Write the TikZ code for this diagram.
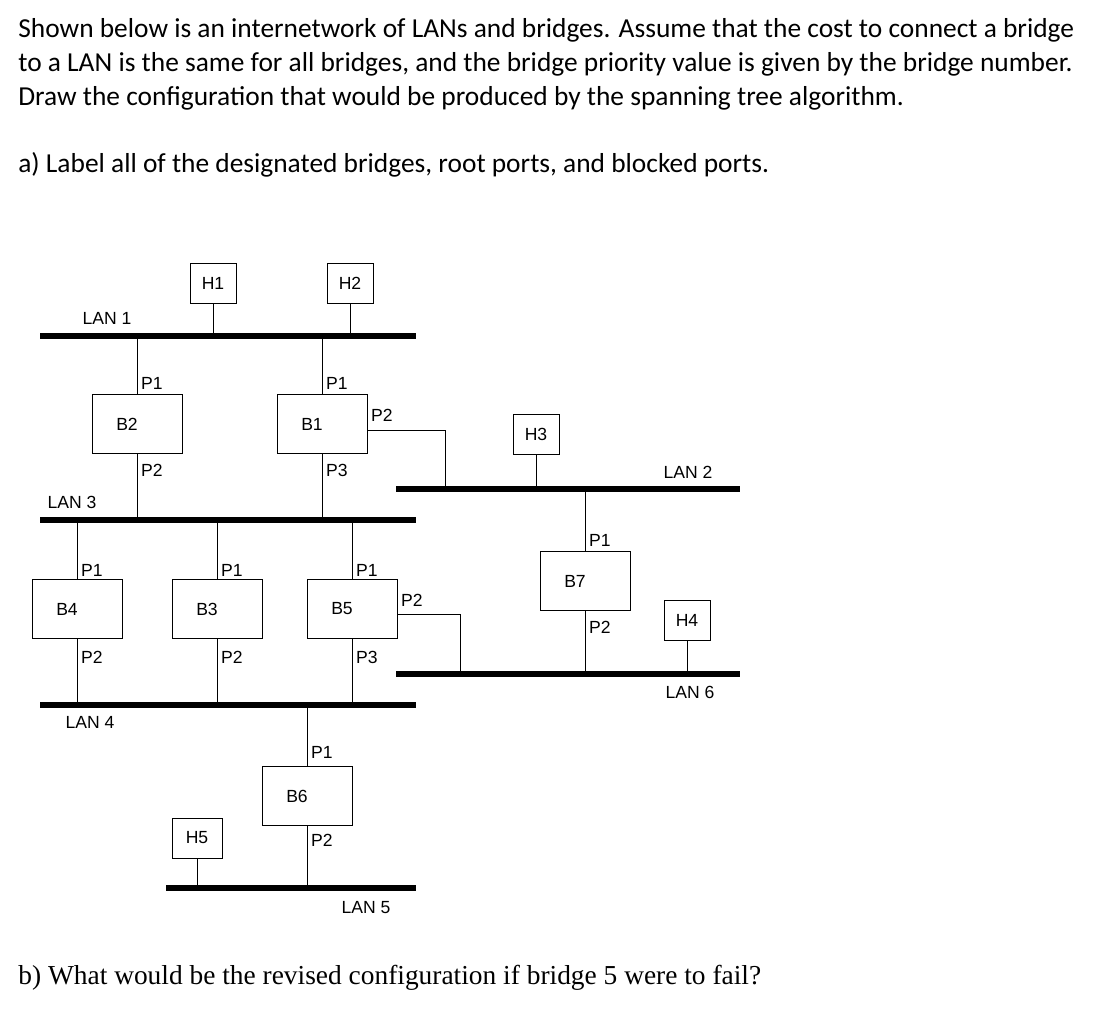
\documentclass[tikz,border=0pt]{standalone}
\usepackage{fontspec}
\setmainfont{Carlito}
\newfontfamily\netfont{Liberation Sans}
\newfontfamily\qfont{Liberation Serif}
\usetikzlibrary{positioning}
\begin{document}
\begin{tikzpicture}[x=0.02cm,y=-0.02cm,
    bridge/.style={rectangle, draw, minimum width=1.8cm, minimum height=1.18cm, font=\netfont\fontsize{10}{12}\selectfont},
    host/.style={rectangle, draw, minimum width=0.92cm, minimum height=0.8cm, font=\netfont\fontsize{10}{12}\selectfont},
    port/.style={anchor=west, inner sep=1pt, font=\netfont\fontsize{10}{12}\selectfont},
    lbl/.style={inner sep=1pt, font=\netfont\fontsize{10}{12}\selectfont},
    bus/.style={line width=3pt},
    link/.style={thin}
]
\useasboundingbox (0,0) rectangle (1120,1014);

% question text
\node[anchor=west, align=left, inner sep=0pt, font=\fontsize{15.6}{19.3}\selectfont] (q) at (18,64)
  {Shown below is an internetwork of LANs and bridges. Assume that the cost to connect a bridge\\
   to a LAN is the same for all bridges, and the bridge priority value is given by the bridge number.\\
   Draw the configuration that would be produced by the spanning tree algorithm.};
\node[anchor=west, inner sep=0pt, font=\fontsize{15.6}{19.3}\selectfont] (qa) at (18,165) {a) Label all of the designated bridges, root ports, and blocked ports.};
\node[anchor=west, inner sep=0pt, font=\qfont\fontsize{15.6}{19}\selectfont] (qb) at (18,978) {b) What would be the revised configuration if bridge 5 were to fail?};

% LANs
\coordinate (lan1a) at (40,336); \coordinate (lan1b) at (416,336);
\coordinate (lan3a) at (40,520); \coordinate (lan3b) at (416,520);
\coordinate (lan2a) at (396,489); \coordinate (lan2b) at (740,489);
\coordinate (lan4a) at (40,705); \coordinate (lan4b) at (416,705);
\coordinate (lan6a) at (396,674); \coordinate (lan6b) at (740,674);
\coordinate (lan5a) at (166,888); \coordinate (lan5b) at (416,888);
\draw[bus] (lan1a) -- (lan1b);
\draw[bus] (lan3a) -- (lan3b);
\draw[bus] (lan2a) -- (lan2b);
\draw[bus] (lan4a) -- (lan4b);
\draw[bus] (lan6a) -- (lan6b);
\draw[bus] (lan5a) -- (lan5b);
\node[lbl] (l1) at (107,318) {LAN 1};
\node[lbl] (l2) at (688,472) {LAN 2};
\node[lbl] (l3) at (72,502) {LAN 3};
\node[lbl] (l4) at (90,722) {LAN 4};
\node[lbl] (l5) at (366,908) {LAN 5};
\node[lbl] (l6) at (690,692) {LAN 6};

% hosts
\node[host] (h1) at (213,283) {H1};
\node[host] (h2) at (350,283) {H2};
\node[host] (h3) at (536,434) {H3};
\node[host] (h4) at (687,620) {H4};
\node[host, minimum width=1cm] (h5) at (197,838) {H5};
\draw[link] (h1) -- (h1 |- lan1a);
\draw[link] (h2) -- (h2 |- lan1a);
\draw[link] (h3) -- (h3 |- lan2a);
\draw[link] (h4) -- (h4 |- lan6a);
\draw[link] (h5) -- (h5 |- lan5a);

% bridges
\node[bridge] (b2) at (137,424) {B2\hspace*{4mm}};
\node[bridge] (b1) at (322,424) {B1\hspace*{4mm}};
\node[bridge] (b7) at (585,581) {B7\hspace*{4mm}};
\node[bridge] (b4) at (77,609) {B4\hspace*{4mm}};
\node[bridge] (b3) at (217,609) {B3\hspace*{4mm}};
\node[bridge] (b5) at (352,609) {B5\hspace*{4mm}};
\node[bridge] (b6) at (307,796) {B6\hspace*{4mm}};
\coordinate (b1t) at (445,430);
\coordinate (b5t) at (460,614);

\draw[link] (b2 |- lan1a) -- (b2.north) (b2.south) -- (b2 |- lan3a);
\draw[link] (b1 |- lan1a) -- (b1.north) (b1.south) -- (b1 |- lan3a);
\draw[link] (b1.east |- b1t) -- (b1t) -- (b1t |- lan2a);
\draw[link] (b7 |- lan2a) -- (b7.north) (b7.south) -- (b7 |- lan6a);
\draw[link] (b4 |- lan3a) -- (b4.north) (b4.south) -- (b4 |- lan4a);
\draw[link] (b3 |- lan3a) -- (b3.north) (b3.south) -- (b3 |- lan4a);
\draw[link] (b5 |- lan3a) -- (b5.north) (b5.south) -- (b5 |- lan4a);
\draw[link] (b5.east |- b5t) -- (b5t) -- (b5t |- lan6a);
\draw[link] (b6 |- lan4a) -- (b6.north) (b6.south) -- (b6 |- lan5a);

% ports
\node[port] (b2p1) at (139,383) {P1};
\node[port] (b2p2) at (139,470) {P2};
\node[port] (b1p1) at (324,383) {P1};
\node[port] (b1p3) at (324,470) {P3};
\node[port] (b1p2) at (369,415) {P2};
\node[port] (b7p1) at (587,540) {P1};
\node[port] (b7p2) at (587,627) {P2};
\node[port] (b4p1) at (79,570) {P1};
\node[port] (b4p2) at (79,657) {P2};
\node[port] (b3p1) at (219,570) {P1};
\node[port] (b3p2) at (219,657) {P2};
\node[port] (b5p1) at (354,570) {P1};
\node[port] (b5p3) at (354,657) {P3};
\node[port] (b5p2) at (399,600) {P2};
\node[port] (b6p1) at (309,752) {P1};
\node[port] (b6p2) at (309,840) {P2};
\end{tikzpicture}
\end{document}
